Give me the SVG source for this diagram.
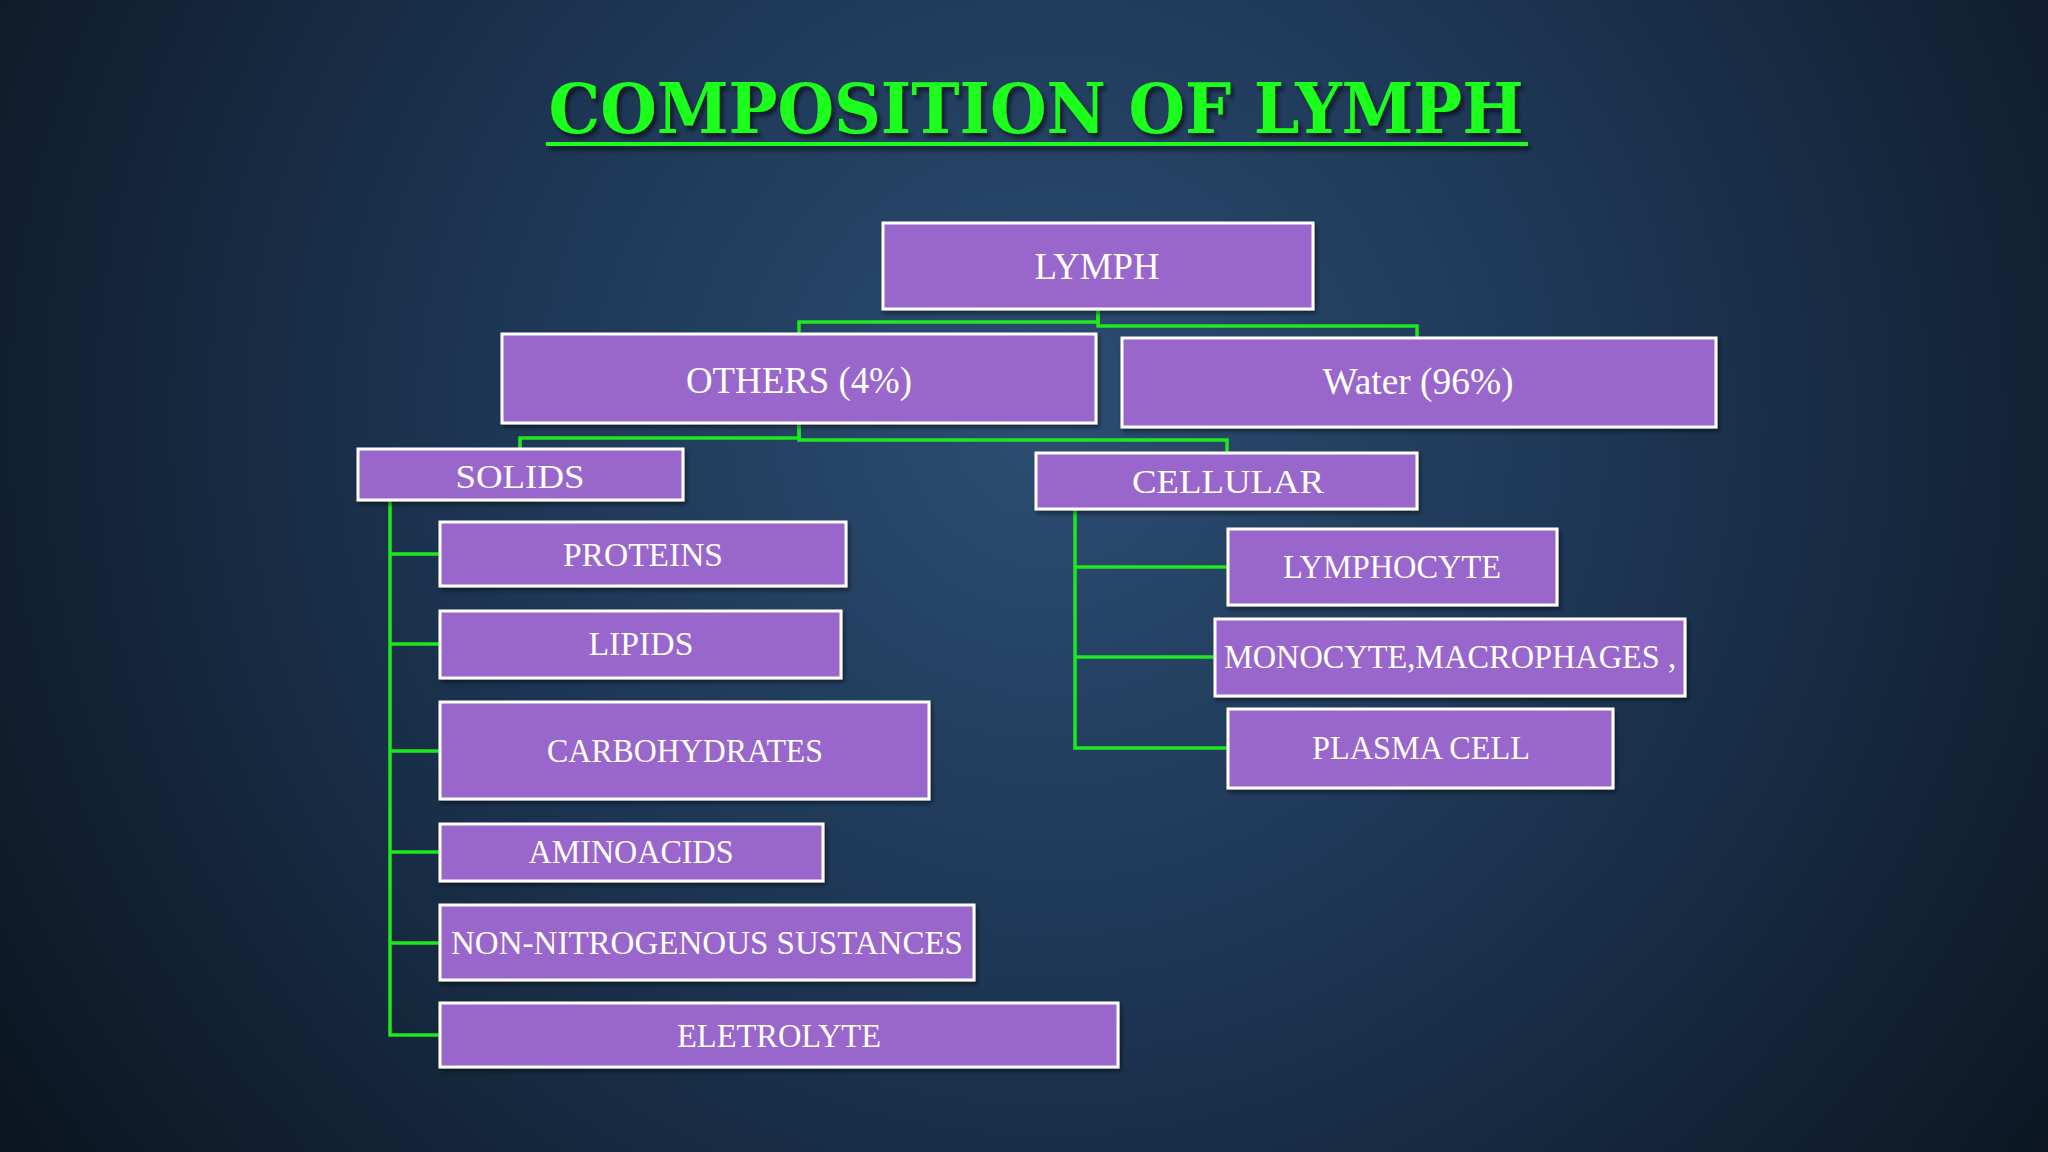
<svg xmlns="http://www.w3.org/2000/svg" width="2048" height="1152" viewBox="0 0 2048 1152">
<defs>
<radialGradient id="bg" cx="1050" cy="420" r="1250" gradientUnits="userSpaceOnUse">
<stop offset="0" stop-color="#2c4d72"/>
<stop offset="0.45" stop-color="#1d3654"/>
<stop offset="1" stop-color="#0c1622"/>
</radialGradient>
<filter id="tsh" x="-5%" y="-20%" width="110%" height="150%">
<feDropShadow dx="3" dy="4" stdDeviation="2" flood-color="#000" flood-opacity="0.6"/>
</filter>
<filter id="bsh" x="-5%" y="-10%" width="110%" height="130%">
<feDropShadow dx="2" dy="3" stdDeviation="2" flood-color="#000" flood-opacity="0.45"/>
</filter>
<style>
.box{fill:#9966cc;stroke:#ffffff;stroke-width:3;filter:url(#bsh)}
.lbl{fill:#ffffff;font-family:"Liberation Serif","Times New Roman",serif;text-anchor:middle;font-size:33px}
.big{font-size:37px}
.con{fill:none;stroke:#1ee81e;stroke-width:3.5}
</style>
</defs>
<rect width="2048" height="1152" fill="url(#bg)"/>

<g id="title" filter="url(#tsh)">
<text x="1036" y="133" fill="#1aff1a" font-family="'DejaVu Serif',serif" font-weight="bold" font-size="70" text-anchor="middle" textLength="975" lengthAdjust="spacingAndGlyphs">COMPOSITION OF LYMPH</text>
<rect x="546" y="142" width="982" height="4" fill="#1aff1a"/>
</g>

<g id="connectors">
<path class="con" d="M1098,309 V322 H799 V333"/>
<path class="con" d="M1098,309 V326 H1417 V337"/>
<path class="con" d="M799,423 V438 H520 V449"/>
<path class="con" d="M799,423 V440 H1227 V453"/>
<path class="con" d="M390,500 V1035 H440"/>
<path class="con" d="M390,554 H440 M390,644 H440 M390,751 H440 M390,852 H440 M390,943 H440"/>
<path class="con" d="M1075,510 V748 H1228"/>
<path class="con" d="M1075,567 H1228 M1075,657 H1215"/>
</g>

<g id="lymph"><rect class="box" x="883" y="223" width="430" height="86"/><text class="lbl big" x="1097" y="279" font-size="36" textLength="125" lengthAdjust="spacingAndGlyphs">LYMPH</text></g>
<g id="others"><rect class="box" x="502" y="334" width="594" height="89"/><text class="lbl big" x="799" y="393" textLength="226" lengthAdjust="spacingAndGlyphs">OTHERS (4%)</text></g>
<g id="water"><rect class="box" x="1122" y="338" width="594" height="89"/><text class="lbl big" x="1418" y="394" textLength="191" lengthAdjust="spacingAndGlyphs">Water (96%)</text></g>
<g id="solids"><rect class="box" x="358" y="449" width="325" height="51"/><text class="lbl" x="520" y="488" font-size="36" textLength="129" lengthAdjust="spacingAndGlyphs">SOLIDS</text></g>
<g id="cellular"><rect class="box" x="1036" y="453" width="381" height="56"/><text class="lbl" x="1228" y="493" font-size="36" textLength="192" lengthAdjust="spacingAndGlyphs">CELLULAR</text></g>
<g id="proteins"><rect class="box" x="440" y="522" width="406" height="64"/><text class="lbl" x="643" y="566" textLength="160" lengthAdjust="spacingAndGlyphs">PROTEINS</text></g>
<g id="lipids"><rect class="box" x="440" y="611" width="401" height="67"/><text class="lbl" x="641" y="655" textLength="105" lengthAdjust="spacingAndGlyphs">LIPIDS</text></g>
<g id="carbohydrates"><rect class="box" x="440" y="702" width="489" height="97"/><text class="lbl" x="685" y="762" textLength="276" lengthAdjust="spacingAndGlyphs">CARBOHYDRATES</text></g>
<g id="aminoacids"><rect class="box" x="440" y="824" width="383" height="57"/><text class="lbl" x="631" y="863" textLength="205" lengthAdjust="spacingAndGlyphs">AMINOACIDS</text></g>
<g id="nonnitrogenous"><rect class="box" x="440" y="905" width="534" height="75"/><text class="lbl" x="707" y="954" textLength="512" lengthAdjust="spacingAndGlyphs">NON-NITROGENOUS SUSTANCES</text></g>
<g id="eletrolyte"><rect class="box" x="440" y="1003" width="678" height="64"/><text class="lbl" x="779" y="1047" textLength="204" lengthAdjust="spacingAndGlyphs">ELETROLYTE</text></g>
<g id="lymphocyte"><rect class="box" x="1228" y="529" width="329" height="76"/><text class="lbl" x="1392" y="578" textLength="218" lengthAdjust="spacingAndGlyphs">LYMPHOCYTE</text></g>
<g id="monocyte"><rect class="box" x="1215" y="619" width="470" height="77"/><text class="lbl" x="1450" y="668" textLength="452" lengthAdjust="spacingAndGlyphs">MONOCYTE,MACROPHAGES ,</text></g>
<g id="plasmacell"><rect class="box" x="1228" y="709" width="385" height="79"/><text class="lbl" x="1421" y="759" textLength="218" lengthAdjust="spacingAndGlyphs">PLASMA CELL</text></g>
</svg>
